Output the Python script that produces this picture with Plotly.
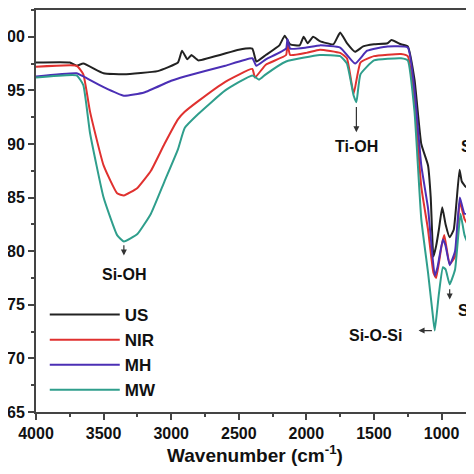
import plotly.graph_objects as go

us_x = [4000,3750,3700,3650,3500,3350,3100,2950,2920,2880,2850,2800,2500,2400,2370,2300,2200,2160,2120,2050,2020,1990,1950,1900,1800,1750,1700,1640,1580,1500,1400,1370,1300,1250,1200,1150,1100,1080,1060,1040,1020,995,970,940,910,867,850,820,778,750]
us_y = [97.6,97.6,97.3,97.5,96.6,96.5,96.8,97.6,98.7,97.9,98.3,97.8,98.8,98.9,97.7,98.3,99.2,100.1,99.3,99.2,100.0,99.4,100.0,99.6,99.3,100.4,99.4,98.6,99.1,99.3,99.4,99.7,99.3,99.1,96.0,90.0,88.0,85.0,79.5,80.5,82.0,84.1,82.5,81.3,82.0,87.6,86.5,86.0,86.0,86.0]
nir_x = [4000,3700,3650,3600,3500,3400,3350,3250,3150,3050,2950,2900,2800,2600,2400,2380,2300,2150,2140,2120,2000,1900,1750,1700,1650,1600,1500,1300,1250,1200,1150,1100,1060,1040,1000,980,940,900,865,830,778,750]
nir_y = [97.2,97.3,96.5,93.0,88.0,85.4,85.2,85.9,87.5,90.0,92.3,93.0,94.0,95.8,97.0,96.2,97.4,98.3,99.5,98.3,98.5,98.8,98.5,98.0,94.7,97.6,98.2,98.4,98.2,94.0,86.0,82.0,78.0,77.5,80.5,81.5,78.8,79.5,84.6,83.0,82.0,81.8]
mh_x = [4000,3700,3650,3500,3350,3200,3000,2900,2600,2400,2370,2300,2150,2140,2120,2000,1900,1750,1640,1550,1400,1250,1200,1150,1100,1050,1030,990,970,940,900,865,830,778,750]
mh_y = [96.3,96.6,96.3,95.3,94.5,94.8,95.9,96.3,97.3,98.0,97.3,97.9,98.9,99.8,98.9,99.0,99.2,99.0,97.5,98.7,99.1,99.0,95.0,88.0,84.0,77.7,78.5,81.1,80.5,78.7,80.0,85.0,83.5,83.5,83.4]
mw_x = [4000,3700,3650,3600,3500,3400,3350,3250,3150,3050,2950,2900,2800,2600,2400,2350,2300,2150,1900,1750,1700,1650,1630,1600,1500,1300,1250,1200,1150,1100,1060,1050,1020,990,970,940,900,860,830,778,750]
mw_y = [96.2,96.4,95.5,91.0,85.0,81.5,80.9,81.6,83.5,86.5,89.5,91.5,92.8,95.0,96.4,96.0,96.5,97.7,98.3,98.2,97.5,94.5,93.9,96.5,97.8,98.0,97.8,93.0,83.0,78.0,73.5,72.6,76.0,78.5,78.3,76.9,78.3,83.5,81.5,80.0,79.8]

series = [("US", us_x, us_y, "#222222"), ("NIR", nir_x, nir_y, "#e0312f"),
          ("MH", mh_x, mh_y, "#4b2fb5"), ("MW", mw_x, mw_y, "#2f9e8c")]

fig = go.Figure()
for name, x, y, c in series:
    fig.add_trace(go.Scatter(x=x, y=y, mode="lines", name="<b>%s</b>" % name,
                             line=dict(color=c, width=2, shape="spline", smoothing=0.4)))

F = dict(family="Liberation Sans", size=16, color="#111")
def ann(text, x, y, **kw):
    fig.add_annotation(x=x, y=y, text="<b>%s</b>" % text, showarrow=False, font=F, **kw)
ann("Si-OH", 3350, 77.8)
ann("Ti-OH", 1630, 89.8)
ann("Si-O-Si", 1280, 72.1, xanchor="right")
ann("Si-O-Ti", 895, 74.5, xanchor="left")
ann("Si-O-Si", 870, 89.8, xanchor="left")
ann("Ti-O-Ti", 815, 70.6, xanchor="left")
for (x0, y0, x1, y1) in [(3350, 80.7, 3350, 79.6), (1630, 93.6, 1630, 91.1), (1060, 72.6, 1170, 72.6), (940, 76.6, 940, 75.5)]:
    fig.add_annotation(x=x1, y=y1, ax=x0, ay=y0, axref="x", ayref="y", text="", showarrow=True,
                       arrowhead=2, arrowsize=1, arrowwidth=1.2, arrowcolor="#333")

fig.update_layout(
    width=466, height=466, margin=dict(l=28, r=0, t=0, b=62),
    paper_bgcolor="white", plot_bgcolor="white", font=F, showlegend=True,
    legend=dict(x=0.02, y=0.01, xanchor="left", yanchor="bottom", bgcolor="rgba(0,0,0,0)",
                font=dict(family="Liberation Sans", size=17, color="#111"), itemwidth=70, tracegroupgap=0),
)
xt = [4000,3500,3000,2500,2000,1500,1000]
fig.update_xaxes(range=[4000, 760], tickvals=xt, ticktext=["<b>%d</b>" % v for v in xt],
                 showline=True, linecolor="#444", linewidth=2, mirror=True, ticks="outside", ticklen=6, tickwidth=1.5,
                 minor=dict(dtick=250, ticks="outside", ticklen=3), showgrid=False, zeroline=False,
                 title=dict(text="<b>Wavenumber (cm<sup>-1</sup>)</b>", font=dict(family="Liberation Sans", size=19), standoff=6),
                 tickfont=dict(family="Liberation Sans", size=16))
yt = [65,70,75,80,85,90,95,100]
fig.update_yaxes(range=[65, 102.5], tickvals=yt, ticktext=["<b>%d</b>" % v for v in yt], automargin=False,
                 showline=True, linecolor="#444", linewidth=2, ticks="outside", ticklen=6, tickwidth=1.5,
                 minor=dict(dtick=2.5, ticks="outside", ticklen=3), showgrid=False, zeroline=False,
                 tickfont=dict(family="Liberation Sans", size=16))
fig.write_html("out.html")
